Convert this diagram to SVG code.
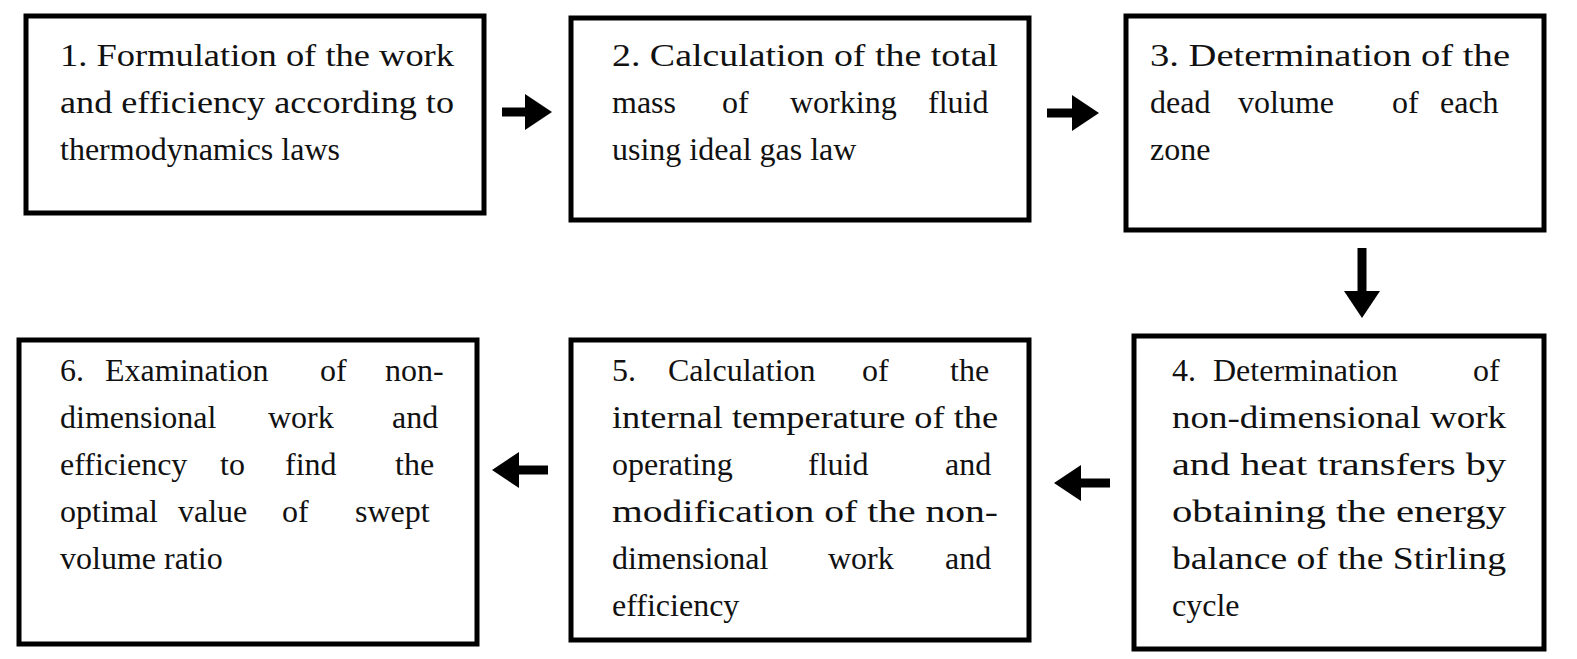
<svg xmlns="http://www.w3.org/2000/svg" width="1577" height="659" viewBox="0 0 1577 659">
<style>
.b{fill:#fff;stroke:#000;stroke-width:5}
text{font-family:'Liberation Serif','Times New Roman','DejaVu Serif',serif;font-size:32px;fill:#111}
.a{stroke:#000;stroke-width:9;fill:none}
</style>
<defs><marker id="h" markerWidth="3" markerHeight="4" refX="1" refY="2" orient="auto"><path d="M0,0L3,2L0,4Z" fill="#000"/></marker></defs>
<rect width="1577" height="659" fill="#fff"/>
<g id="n1"><rect class="b" x="26" y="16" width="458" height="197"/>
<text x="60" y="66" textLength="394" lengthAdjust="spacingAndGlyphs">1. Formulation of the work</text>
<text x="60" y="113" textLength="394" lengthAdjust="spacingAndGlyphs">and efficiency according to</text>
<text x="60" y="160">thermodynamics laws</text></g>
<g id="n2"><rect class="b" x="571" y="18" width="458" height="202"/>
<text x="612" y="66" textLength="386" lengthAdjust="spacingAndGlyphs">2. Calculation of the total</text>
<text y="113"><tspan x="612">mass</tspan> <tspan x="722">of</tspan> <tspan x="790">working</tspan> <tspan x="928">fluid</tspan></text>
<text x="612" y="160">using ideal gas law</text></g>
<g id="n3"><rect class="b" x="1126" y="16" width="418" height="214"/>
<text x="1150" y="66" textLength="360" lengthAdjust="spacingAndGlyphs">3. Determination of the</text>
<text y="113"><tspan x="1150">dead</tspan> <tspan x="1238">volume</tspan> <tspan x="1392">of</tspan> <tspan x="1440">each</tspan></text>
<text x="1150" y="160">zone</text></g>
<g id="n4"><rect class="b" x="1134" y="336" width="410" height="313"/>
<text y="381"><tspan x="1172">4.</tspan> <tspan x="1213">Determination</tspan> <tspan x="1473">of</tspan></text>
<text x="1172" y="428" textLength="334" lengthAdjust="spacingAndGlyphs">non-dimensional work</text>
<text x="1172" y="475" textLength="334" lengthAdjust="spacingAndGlyphs">and heat transfers by</text>
<text x="1172" y="522" textLength="334" lengthAdjust="spacingAndGlyphs">obtaining the energy</text>
<text x="1172" y="569" textLength="334" lengthAdjust="spacingAndGlyphs">balance of the Stirling</text>
<text x="1172" y="616">cycle</text></g>
<g id="n5"><rect class="b" x="571" y="340" width="458" height="300"/>
<text y="381"><tspan x="612">5.</tspan> <tspan x="668">Calculation</tspan> <tspan x="862">of</tspan> <tspan x="950">the</tspan></text>
<text x="612" y="428" textLength="386" lengthAdjust="spacingAndGlyphs">internal temperature of the</text>
<text y="475"><tspan x="612">operating</tspan> <tspan x="808">fluid</tspan> <tspan x="945">and</tspan></text>
<text x="612" y="522" textLength="386" lengthAdjust="spacingAndGlyphs">modification of the non-</text>
<text y="569"><tspan x="612">dimensional</tspan> <tspan x="828">work</tspan> <tspan x="945">and</tspan></text>
<text x="612" y="616">efficiency</text></g>
<g id="n6"><rect class="b" x="19" y="340" width="458" height="304"/>
<text y="381"><tspan x="60">6.</tspan> <tspan x="105">Examination</tspan> <tspan x="320">of</tspan> <tspan x="385">non-</tspan></text>
<text y="428"><tspan x="60">dimensional</tspan> <tspan x="268">work</tspan> <tspan x="392">and</tspan></text>
<text y="475"><tspan x="60">efficiency</tspan> <tspan x="220">to</tspan> <tspan x="285">find</tspan> <tspan x="395">the</tspan></text>
<text y="522"><tspan x="60">optimal</tspan> <tspan x="178">value</tspan> <tspan x="282">of</tspan> <tspan x="355">swept</tspan></text>
<text x="60" y="569">volume ratio</text></g>
<g id="connectors">
<path class="a" d="M502,112H534" marker-end="url(#h)"/>
<path class="a" d="M1047,113H1081" marker-end="url(#h)"/>
<path class="a" d="M1362,248V300" marker-end="url(#h)"/>
<path class="a" d="M1110,483H1072" marker-end="url(#h)"/>
<path class="a" d="M548,470H510" marker-end="url(#h)"/>
</g>
</svg>
